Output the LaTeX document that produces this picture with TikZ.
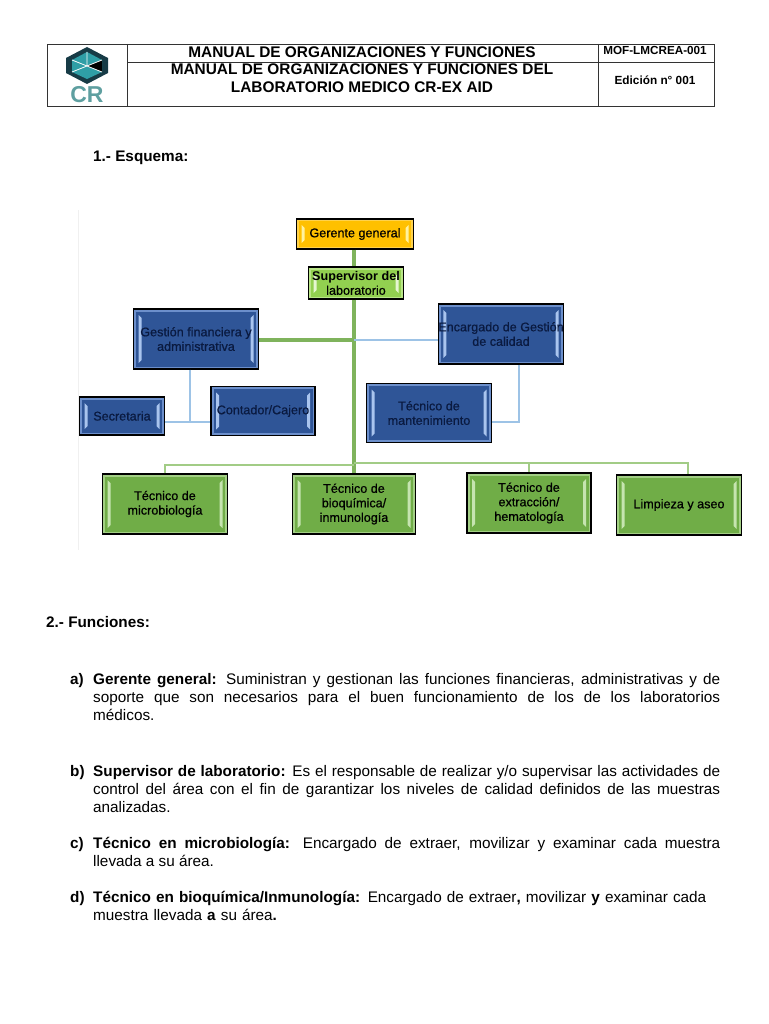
\documentclass[tikz,border=0pt]{standalone}
\usepackage{fontspec}
\setmainfont{Liberation Sans}
\newfontfamily\orgfont[RawFeature={embolden=0.7}]{Liberation Sans}
\newcommand{\bodysize}{\fontsize{15.3}{18}\selectfont}
\newcommand{\orgsize}{\orgfont\fontsize{12.6}{14.5}\selectfont}
\definecolor{bluebox}{HTML}{2F5597}
\definecolor{blueband}{HTML}{6C8FCB}
\definecolor{bluestrip}{HTML}{A9C4EE}
\definecolor{blueink}{HTML}{0A1A40}
\definecolor{blueline}{HTML}{9DC3E6}
\definecolor{greenbox}{HTML}{70AD47}
\definecolor{greenband}{HTML}{A3CF85}
\definecolor{greenstrip}{HTML}{C6E4B0}
\definecolor{greenline}{HTML}{7FB35C}
\definecolor{greenbus}{HTML}{A2CC86}
\definecolor{limebox}{HTML}{92D050}
\definecolor{limeband}{HTML}{B9E588}
\definecolor{limestrip}{HTML}{E6F7D0}
\definecolor{goldbox}{HTML}{FFC000}
\definecolor{goldband}{HTML}{FFD24D}
\definecolor{goldstrip}{HTML}{FFF2A0}
\definecolor{logoteal}{HTML}{2F9EA6}
\definecolor{logodark}{HTML}{173B46}
\definecolor{logotext}{HTML}{5E9FA0}
\tikzset{
  frameline/.style={draw=black!80, line width=0.9pt},
  headtext/.style={font=\bfseries\fontsize{15.4}{18}\selectfont, align=center},
  bevel/.style 2 args={path picture={
    \draw [#1, line width=2pt]
      ([shift={(1.5pt,1.5pt)}]path picture bounding box.south west) rectangle
      ([shift={(-1.5pt,-1.5pt)}]path picture bounding box.north east);
    \fill [#2] ([shift={(5pt,-6pt)}]path picture bounding box.north west)
      -- ([shift={(8pt,-9pt)}]path picture bounding box.north west)
      -- ([shift={(8pt,9pt)}]path picture bounding box.south west)
      -- ([shift={(5pt,6pt)}]path picture bounding box.south west) -- cycle;
    \fill [#2] ([shift={(-5pt,-6pt)}]path picture bounding box.north east)
      -- ([shift={(-8pt,-9pt)}]path picture bounding box.north east)
      -- ([shift={(-8pt,9pt)}]path picture bounding box.south east)
      -- ([shift={(-5pt,6pt)}]path picture bounding box.south east) -- cycle;
  }},
  orgnode/.style={draw=black, line width=1.3pt, font=\orgsize, align=center, inner sep=0pt},
  bluenode/.style={orgnode, fill=bluebox, text=blueink, bevel={blueband}{bluestrip}},
  greennode/.style={orgnode, fill=greenbox, text=black, bevel={greenband}{greenstrip}},
  limenode/.style={orgnode, fill=limebox, text=black, bevel={limeband}{limestrip}},
  goldnode/.style={orgnode, fill=goldbox, text=black, bevel={goldband}{goldstrip}},
  bluelink/.style={draw=blueline, line width=1.3pt},
  greenlink/.style={draw=greenline, line width=3.2pt},
  thinlink/.style={draw=greenbus, line width=1.8pt},
  bodyline/.style={anchor=base west, font=\bodysize, inner sep=0pt},
  itemlabel/.style={anchor=base west, font=\bodysize\bfseries, inner sep=0pt},
}
\begin{document}
\begin{tikzpicture}[x=1pt, y=-1pt]
  \useasboundingbox (0, 0) rectangle (768, 1024);

  % Header table
  \draw [frameline] (47, 44) rectangle (714, 106);
  \draw [frameline] (127, 44) -- (127, 106);
  \draw [frameline] (598, 44) -- (598, 106);
  \draw [frameline] (127, 62) -- (714, 62);
  \node [headtext] (headone) at (362, 52) {MANUAL DE ORGANIZACIONES Y FUNCIONES};
  \node [headtext] (headtwo) at (362, 78) {MANUAL DE ORGANIZACIONES Y FUNCIONES DEL\\LABORATORIO MEDICO CR-EX AID};
  \node [font=\bfseries\fontsize{11.7}{14}\selectfont] (code) at (655, 50) {MOF-LMCREA-001};
  \node [font=\bfseries\fontsize{11.8}{14}\selectfont] (edition) at (655, 80) {Edición n° 001};

  % Logo
  \fill [logodark] (87, 47) -- (108, 58) -- (108, 73) -- (87, 84) -- (66, 73) -- (66, 58) -- cycle;
  \fill [logoteal] (87, 52) -- (102, 60) -- (102, 72) -- (87, 79) -- (72, 72) -- (72, 60) -- cycle;
  \fill [black] (102, 60) -- (87, 66) -- (102, 72) -- cycle;
  \draw [white, line width=0.8pt] (72, 60) -- (102, 72) (72, 72) -- (102, 60) (87, 52) -- (87, 66);
  \node [text=logotext, font=\bfseries\fontsize{23}{23}\selectfont, inner sep=0pt] (logotext) at (87, 94.5) {CR};

  % Section titles
  \node [bodyline, font=\bodysize\bfseries] (secone) at (93, 162) {1.- Esquema:};
  \node [bodyline, font=\bodysize\bfseries] (sectwo) at (46, 627) {2.- Funciones:};

  % Chart edge
  \draw [black!6] (78, 210) -- (78, 550);

  % Chart boxes
  \node [goldnode, minimum width=117, minimum height=30] (gerente) at (355, 234) {Gerente general};
  \node [limenode, minimum width=95, minimum height=32] (supervisor) at (356, 283) {\textbf{\fontspec{Liberation Sans}Supervisor del}\\laboratorio};
  \node [bluenode, minimum width=125, minimum height=60] (gestion) at (196, 339) {Gestión financiera y\\administrativa};
  \node [bluenode, minimum width=123, minimum height=60] (calidad) at (501, 334) {Encargado de Gestión\\de calidad};
  \node [bluenode, minimum width=125, minimum height=59] (mantenimiento) at (429, 413) {Técnico de\\mantenimiento};
  \node [bluenode, minimum width=85, minimum height=38] (secretaria) at (122, 416) {Secretaria};
  \node [bluenode, minimum width=104, minimum height=49] (contador) at (263, 411) {Contador/Cajero};
  \node [greennode, minimum width=125, minimum height=60] (micro) at (165, 504) {Técnico de\\microbiología};
  \node [greennode, minimum width=123, minimum height=60] (bioq) at (354, 504) {Técnico de\\bioquímica/\\inmunología};
  \node [greennode, minimum width=124, minimum height=60] (extrac) at (529, 503) {Técnico de\\extracción/\\hematología};
  \node [greennode, minimum width=125, minimum height=60] (limpieza) at (679, 505) {Limpieza y aseo};

  % Chart links
  \coordinate (trunk) at (354, 340);
  \coordinate (busleft) at (354, 465);
  \coordinate (busright) at (354, 463);
  \coordinate (extractick) at (529, 463);
  \coordinate (limpiezatick) at (688, 463);
  \coordinate (gestionelbow) at (190, 422);
  \coordinate (calidadelbow) at (519, 422);
  \draw [greenlink] (gerente.south -| trunk) -- (supervisor.north -| trunk);
  \draw [greenlink] (supervisor.south -| trunk) -- (bioq.north -| trunk);
  \draw [greenlink] (gestion.east |- trunk) -- (trunk);
  \draw [bluelink] (trunk) -- (calidad.west |- trunk);
  \draw [bluelink] (gestion.south -| gestionelbow) -- (gestionelbow);
  \draw [bluelink] (secretaria.east |- gestionelbow) -- (contador.west |- gestionelbow);
  \draw [bluelink] (calidad.south -| calidadelbow) -- (calidadelbow) -- (mantenimiento.east |- calidadelbow);
  \draw [thinlink] (micro.north) |- (busleft);
  \draw [thinlink] (busright) -- (limpiezatick) -- (limpiezatick |- limpieza.north);
  \draw [thinlink] (extractick) -- (extrac.north);

  % Body text
  \node [itemlabel] (itema) at (70, 684) {a)};
  \node [bodyline, text width=627, align=justify] (texta) at (93, 684) {\textbf{Gerente general:} Suministran y gestionan las funciones financieras, administrativas y de\linebreak soporte que son necesarios para el buen funcionamiento de los de los laboratorios\linebreak médicos.};
  \node [itemlabel] (itemb) at (70, 776) {b)};
  \node [bodyline, text width=627, align=justify] (textb) at (93, 776) {\textbf{Supervisor de laboratorio:} Es el responsable de realizar y/o supervisar las actividades de\linebreak control del área con el fin de garantizar los niveles de calidad definidos de las muestras\linebreak analizadas.};
  \node [itemlabel] (itemc) at (70, 848) {c)};
  \node [bodyline, text width=627, align=justify] (textc) at (93, 848) {\textbf{Técnico en microbiología:} Encargado de extraer, movilizar y examinar cada muestra\linebreak llevada a su área.};
  \node [itemlabel] (itemd) at (70, 902) {d)};
  \node [bodyline, text width=627, align=left] (textd) at (93, 902) {\textbf{Técnico en bioquímica/Inmunología:} Encargado de extraer\textbf{,} movilizar \textbf{y} examinar cada\\muestra llevada \textbf{a} su área\textbf{.}};
\end{tikzpicture}
\end{document}
